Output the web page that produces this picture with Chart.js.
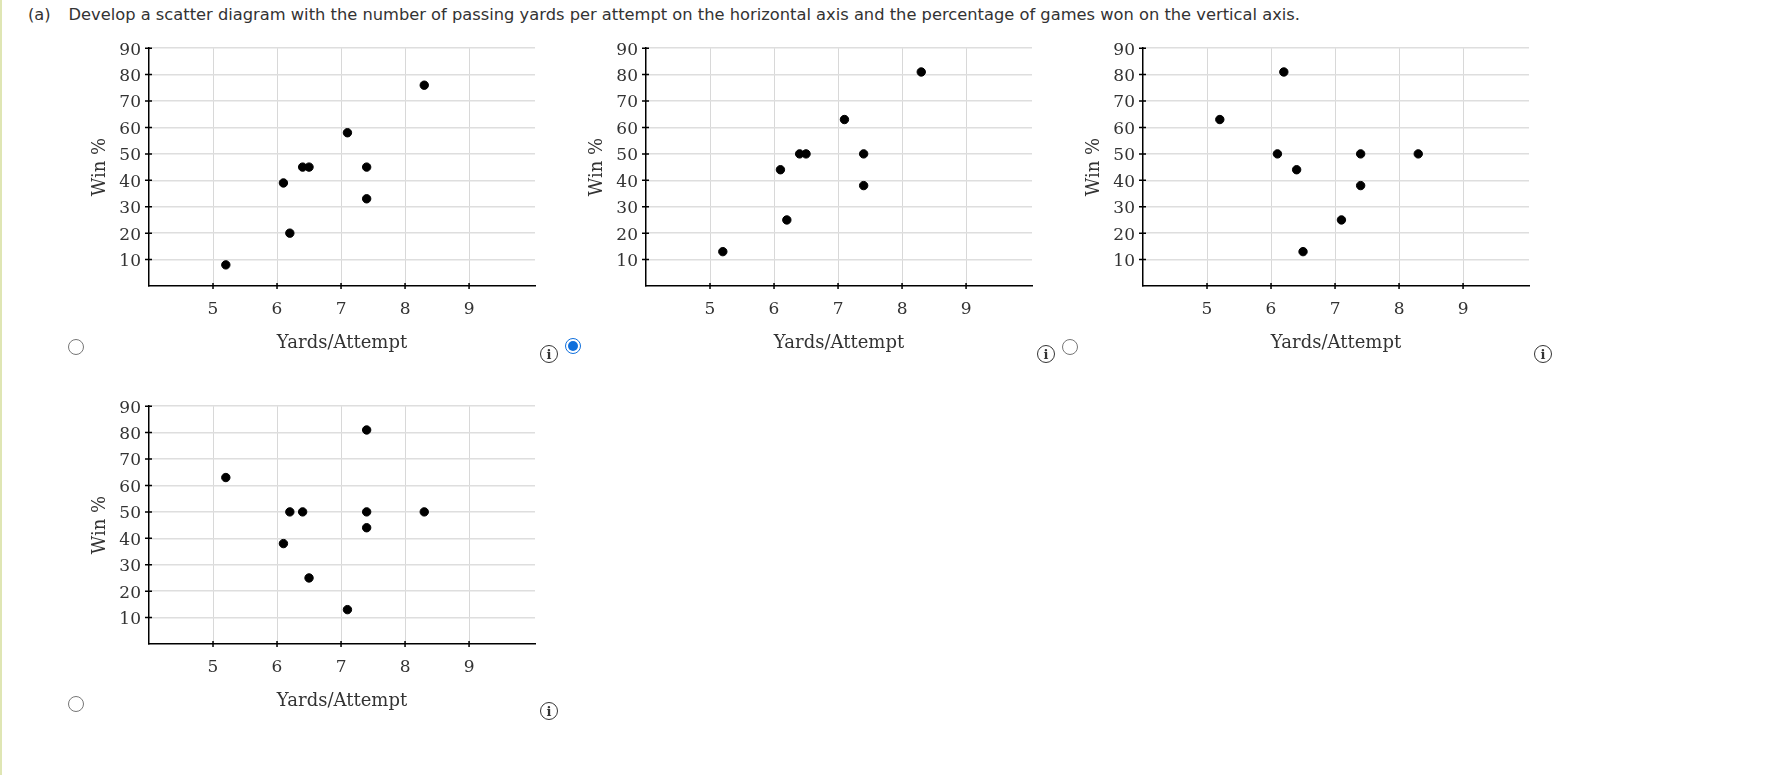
<!DOCTYPE html>
<html>
<head>
<meta charset="utf-8">
<title>Scatter diagrams</title>
<script src="https://cdn.jsdelivr.net/npm/chart.js@4"></script>
<style>
  html, body { margin: 0; padding: 0; background: #fff; }
  body { width: 1792px; height: 775px; position: relative; overflow: hidden; }
  #borde { position: absolute; left: 0; top: 0; width: 2px; height: 775px; background: #dfe6b4; }
  .txt { position: absolute; font-family: "DejaVu Sans", sans-serif; font-size: 16.3px; color: #333; white-space: nowrap; line-height: 18px; }
  canvas { position: absolute; }
  .radio { position: absolute; width: 14px; height: 14px; border: 1.5px solid #767676; border-radius: 50%; background: #fff; }
  .radio.sel { border: 1.5px solid #0f6fdc; }
  .radio.sel::after { content: ""; position: absolute; left: 2px; top: 2px; width: 10px; height: 10px; border-radius: 50%; background: #0f6fdc; }
  .info { position: absolute; width: 16px; height: 16px; border: 1px solid #333; border-radius: 50%; text-align: center;
          font: bold 13px/17px "DejaVu Serif", serif; color: #333; }
</style>
</head>
<body>
<div id="borde"></div>
<div class="txt" style="left:28px;top:6px">(a)</div>
<div class="txt" style="left:68.5px;top:6px">Develop a scatter diagram with the number of passing yards per attempt on the horizontal axis and the percentage of games won on the vertical axis.</div>

<canvas id="c1" width="465" height="324" style="left:80px;top:30px"></canvas>
<canvas id="c2" width="465" height="324" style="left:577px;top:30px"></canvas>
<canvas id="c3" width="465" height="324" style="left:1074px;top:30px"></canvas>
<canvas id="c4" width="465" height="324" style="left:80px;top:388px"></canvas>

<div class="radio" style="left:68px;top:339px"></div>
<div class="radio sel" style="left:565px;top:338px"></div>
<div class="radio" style="left:1062px;top:339px"></div>
<div class="radio" style="left:68px;top:696px"></div>
<div class="info" style="left:540px;top:345px">i</div>
<div class="info" style="left:1037px;top:345px">i</div>
<div class="info" style="left:1534px;top:345px">i</div>
<div class="info" style="left:540px;top:702px">i</div>

<script>
// datos
const xTicks = [5, 6, 7, 8, 9];
const yTicks = [10, 20, 30, 40, 50, 60, 70, 80, 90];

const xComun = [5.2, 6.1, 6.2, 6.4, 6.5, 7.1, 7.4, 7.4, 8.3];
const yA = [8, 39, 20, 45, 45, 58, 45, 33, 76];
const yB = [13, 44, 25, 50, 50, 63, 50, 38, 81];
const yC = [63, 50, 81, 44, 13, 25, 50, 38, 50];
const xD = [5.2, 6.1, 6.2, 6.4, 6.5, 7.1, 7.4, 7.4, 7.4, 8.3];
const yD = [63, 38, 50, 50, 25, 13, 81, 50, 44, 50];

const xLabel = 'Yards/Attempt';
const yLabel = 'Win %';

// marcas de los ejes: cruzan la linea del eje
const marcasEjes = {
  id: 'marcasEjes',
  afterDatasetsDraw(chart) {
    const { ctx, scales: { x, y }, chartArea } = chart;
    ctx.save();
    ctx.strokeStyle = '#000';
    ctx.lineWidth = 1.5;
    ctx.beginPath();
    y.ticks.forEach(t => {
      const py = y.getPixelForValue(t.value);
      ctx.moveTo(chartArea.left - 4, py);
      ctx.lineTo(chartArea.left + 3, py);
    });
    x.ticks.forEach(t => {
      const px = x.getPixelForValue(t.value);
      ctx.moveTo(px, chartArea.bottom - 3);
      ctx.lineTo(px, chartArea.bottom + 3);
    });
    ctx.stroke();
    ctx.restore();
  }
};

function crearGrafico(id, xs, ys) {
  const fuente = { family: '"DejaVu Serif", serif', size: 17 };
  const fuenteTitulo = { family: '"DejaVu Serif", serif', size: 18 };
  new Chart(document.getElementById(id), {
    type: 'scatter',
    data: {
      datasets: [{
        data: xs.map((v, i) => ({ x: v, y: ys[i] })),
        backgroundColor: '#000',
        borderColor: '#000',
        pointRadius: 4.2
      }]
    },
    options: {
      responsive: false,
      animation: false,
      devicePixelRatio: 1,
      layout: { padding: { top: 18, right: 10, left: 0, bottom: 0 } },
      plugins: { legend: { display: false }, tooltip: { enabled: false } },
      scales: {
        x: {
          type: 'linear',
          min: 4,
          max: 10.03,
          afterBuildTicks: s => { s.ticks = xTicks.map(v => ({ value: v })); },
          afterFit: s => { s.height = 68; },
          grid: { color: '#d8d8d8', lineWidth: 1, drawTicks: false },
          border: { color: '#000', width: 1.5 },
          ticks: { color: '#333', font: fuente, padding: 13, maxRotation: 0, autoSkip: false },
          title: { display: true, text: xLabel, color: '#333', font: fuenteTitulo, padding: 0 }
        },
        y: {
          min: 0,
          max: 90,
          afterBuildTicks: s => { s.ticks = yTicks.map(v => ({ value: v })); },
          afterFit: s => { s.width = 69; },
          grid: { color: '#dedede', lineWidth: 1.5, drawTicks: false },
          border: { color: '#000', width: 1.5 },
          ticks: { color: '#333', font: fuente, padding: 8, labelOffset: 2, autoSkip: false },
          title: { display: true, text: yLabel, color: '#333', font: fuenteTitulo, padding: { top: 10, bottom: 0 } }
        }
      }
    },
    plugins: [marcasEjes]
  });
}

crearGrafico('c1', xComun, yA);
crearGrafico('c2', xComun, yB);
crearGrafico('c3', xComun, yC);
crearGrafico('c4', xD, yD);
</script>
</body>
</html>
